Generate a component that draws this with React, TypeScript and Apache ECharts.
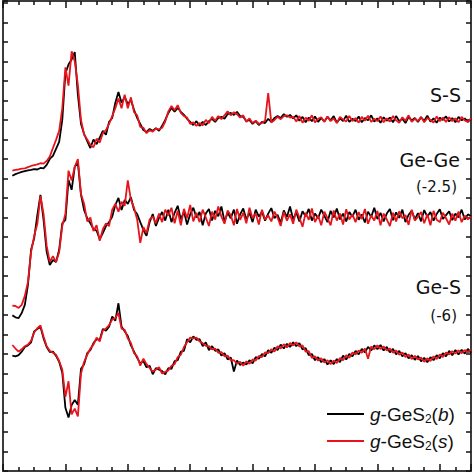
import React, { useEffect, useRef } from "react";
import * as echarts from "echarts";

// Q grid: first sample and step (Å^-1)
const Q_START = 0.3;
const Q_STEP = 0.1;

// S-S (no offset)
const ssBlack = [
  -0.43, -0.39, -0.36, -0.33, -0.31, -0.29, -0.28, -0.26, -0.27, -0.23,
  -0.24, -0.15, 0.0, 0.08, 0.26, 0.44, 1.0, 2.2, 2.42, 2.55,
  2.74, 1.64, 0.9, 0.64, 0.46, 0.28, 0.5, 0.38, 0.55, 0.72,
  0.62, 0.95, 1.05, 1.44, 1.72, 1.44, 1.59, 1.41, 1.51, 1.26,
  1.05, 0.9, 0.74, 0.69, 0.77, 0.72, 0.79, 0.72, 0.85, 1.0,
  1.18, 1.31, 1.21, 1.31, 1.21, 1.13, 1.03, 0.95, 0.87, 0.97,
  0.85, 0.95, 0.87, 0.97, 1.03, 0.95, 1.05, 1.08, 1.03, 1.15,
  1.18, 1.13, 1.21, 1.1, 1.08, 0.97, 1.0, 0.9, 0.97, 0.87,
  0.95, 0.92, 1.03, 0.95, 1.05, 1.1, 1.05, 1.15, 1.08, 1.13,
  1.04, 1.12, 0.98, 1.08, 0.94, 1.06, 0.97, 1.09, 0.95, 1.05,
  0.96, 1.08, 0.99, 1.1, 0.93, 1.04, 0.97, 1.11, 0.95, 1.03,
  0.97, 1.09, 0.94, 1.05, 0.99, 1.12, 0.96, 1.04, 0.93, 1.07,
  0.98, 1.06, 0.94, 1.1, 0.97, 1.03, 0.92, 1.08, 0.99, 1.05,
  0.95, 1.07, 0.98, 1.11, 0.96, 1.04, 0.93, 1.06, 1.0, 1.09,
  0.96, 1.05, 0.94, 1.08, 0.99, 1.04, 0.95, 1.03,
];
const ssRed = [
  -0.3, -0.28, -0.27, -0.25, -0.24, -0.21, -0.18, -0.16, -0.14, -0.11,
  -0.12, -0.05, 0.06, 0.28, 0.49, 0.72, 1.3, 2.35, 1.88, 2.76,
  2.5, 1.9, 1.0, 0.62, 0.5, 0.36, 0.3, 0.52, 0.42, 0.66,
  0.74, 0.9, 1.1, 1.3, 1.55, 1.3, 1.65, 1.3, 1.58, 1.2,
  1.12, 0.82, 0.8, 0.66, 0.74, 0.7, 0.78, 0.76, 0.8, 0.96,
  1.22, 1.36, 1.25, 1.38, 1.18, 1.1, 1.06, 0.9, 0.94, 0.85,
  0.92, 0.86, 1.0, 0.92, 1.08, 0.98, 1.1, 1.02, 1.12, 1.22,
  1.12, 1.2, 1.15, 1.06, 1.12, 0.95, 1.04, 0.92, 0.98, 0.9,
  0.92, 0.98, 1.69, 0.93, 1.0, 1.08, 1.02, 1.1, 1.12, 1.06,
  1.08, 0.96, 1.1, 0.93, 1.06, 0.98, 1.12, 0.94, 1.03, 1.07,
  0.95, 1.09, 0.97, 1.04, 0.92, 1.08, 1.01, 0.96, 1.1, 0.97,
  1.05, 0.93, 1.08, 0.98, 1.11, 0.95, 1.03, 0.97, 1.09, 0.94,
  1.04, 0.96, 1.1, 0.99, 0.93, 1.07, 0.98, 1.12, 0.95, 1.03,
  0.97, 1.08, 0.94, 1.05, 1.0, 0.93, 1.09, 0.97, 1.06, 0.95,
  1.07, 0.97, 1.04, 0.94, 1.08, 0.99, 0.95, 1.04,
];

// Ge-Ge (shifted by -2.5)
const ggBlack = [
  -4.01, -4.06, -4.08, -3.95, -3.74, -3.23, -2.33, -2.03, -1.44, -0.92,
  -1.56, -2.38, -2.72, -2.59, -2.64, -2.33, -1.65, -1.56, -0.54, -0.79,
  -0.2, -0.1, -0.92, -1.31, -1.52, -1.65, -1.8, -1.84, -2.06, -1.9,
  -1.72, -1.62, -1.48, -1.18, -1.0, -1.31, -1.05, -1.15, -0.98, -1.31,
  -1.41, -1.62, -1.82, -1.97, -1.62, -1.41, -1.72, -1.51, -1.36, -1.58,
  -1.3, -1.62, -1.38, -1.2, -1.55, -1.35, -1.68, -1.42, -1.25, -1.5,
  -1.36, -1.7, -1.4, -1.28, -1.58, -1.33, -1.47, -1.22, -1.6, -1.38,
  -1.52, -1.3, -1.66, -1.42, -1.27, -1.55, -1.38, -1.62, -1.3, -1.48,
  -1.35, -1.58, -1.4, -1.26, -1.52, -1.43, -1.64, -1.32, -1.49, -1.22,
  -1.55, -1.37, -1.6, -1.34, -1.47, -1.28, -1.58, -1.4, -1.52, -1.3,
  -1.46, -1.62, -1.33, -1.5, -1.27, -1.55, -1.4, -1.6, -1.36, -1.48,
  -1.3, -1.56, -1.42, -1.63, -1.35, -1.49, -1.25, -1.54, -1.38, -1.6,
  -1.4, -1.28, -1.57, -1.37, -1.51, -1.3, -1.62, -1.43, -1.33, -1.55,
  -1.39, -1.6, -1.31, -1.48, -1.36, -1.58, -1.41, -1.29, -1.54, -1.44,
  -1.34, -1.57, -1.4, -1.5, -1.3, -1.55, -1.42, -1.47,
];
const ggRed = [
  -3.76, -3.77, -3.82, -3.74, -3.51, -3.15, -2.39, -1.97, -1.67, -0.95,
  -1.41, -2.23, -2.64, -2.49, -2.64, -2.39, -1.72, -1.41, -0.3, -0.55,
  -0.2, 0.0, -0.9, -1.15, -1.6, -1.5, -1.85, -1.7, -2.1, -1.8,
  -1.65, -1.72, -1.3, -1.15, -1.35, -1.1, -1.2, -0.55, -1.05, -1.25,
  -1.55, -2.15, -1.75, -1.9, -1.55, -1.48, -1.65, -1.4, -1.62, -1.3,
  -1.45, -1.25, -1.65, -1.33, -1.7, -1.28, -1.52, -1.18, -1.6, -1.38,
  -1.62, -1.3, -1.5, -1.72, -1.35, -1.55, -1.22, -1.48, -1.66, -1.32,
  -1.44, -1.7, -1.28, -1.56, -1.38, -1.65, -1.25, -1.52, -1.4, -1.68,
  -1.3, -1.55, -1.45, -1.6, -1.35, -1.5, -1.72, -1.36, -1.58, -1.42,
  -1.66, -1.3, -1.5, -1.74, -1.38, -1.56, -1.27, -1.62, -1.45, -1.7,
  -1.35, -1.52, -1.7, -1.32, -1.58, -1.4, -1.68, -1.29, -1.55, -1.42,
  -1.62, -1.36, -1.54, -1.28, -1.66, -1.45, -1.58, -1.33, -1.7, -1.4,
  -1.55, -1.72, -1.38, -1.6, -1.34, -1.52, -1.44, -1.69, -1.3, -1.58,
  -1.48, -1.36, -1.65, -1.42, -1.7, -1.33, -1.56, -1.62, -1.38, -1.52,
  -1.68, -1.4, -1.58, -1.35, -1.62, -1.45, -1.55, -1.48,
];

// Ge-S (shifted by -6)
const gsBlack = [
  -5.04, -5.06, -5.03, -4.94, -4.82, -4.78, -4.7, -4.42, -4.36, -4.3,
  -4.6, -4.82, -4.95, -4.94, -5.05, -5.2, -5.48, -6.38, -6.63, -6.31,
  -6.18, -6.3, -5.38, -5.26, -4.98, -4.9, -4.72, -4.62, -4.64, -4.36,
  -4.4, -4.3, -4.04, -4.15, -3.7, -4.3, -4.42, -4.54, -4.78, -4.94,
  -5.1, -5.24, -5.18, -5.34, -5.3, -5.52, -5.36, -5.4, -5.44, -5.52,
  -5.36, -5.38, -5.18, -5.16, -4.94, -4.92, -4.62, -4.7, -4.55, -4.64,
  -4.62, -4.8, -4.7, -4.9, -4.8, -4.92, -4.88, -5.04, -4.98, -5.14,
  -5.09, -5.45, -5.17, -5.28, -5.22, -5.27, -5.16, -5.24, -5.08, -5.12,
  -5.0, -5.06, -4.9, -4.97, -4.84, -4.9, -4.76, -4.86, -4.74, -4.82,
  -4.7, -4.8, -4.72, -4.88, -4.85, -5.03, -5.0, -5.16, -5.08, -5.21,
  -5.13, -5.27, -5.16, -5.26, -5.13, -5.21, -5.04, -5.14, -5.0, -5.06,
  -4.92, -5.01, -4.87, -4.96, -4.82, -4.91, -4.78, -4.88, -4.77, -4.91,
  -4.82, -4.96, -4.87, -5.01, -4.92, -5.06, -4.98, -5.11, -5.03, -5.15,
  -5.05, -5.19, -5.1, -5.21, -5.08, -5.16, -5.03, -5.11, -4.98, -5.06,
  -4.92, -5.03, -4.9, -5.01, -4.89, -4.99, -4.87, -4.97,
];
const gsRed = [
  -4.77, -4.86, -4.94, -4.88, -4.8, -4.76, -4.66, -4.45, -4.34, -4.27,
  -4.55, -4.8, -4.92, -4.97, -5.02, -5.18, -5.4, -6.1, -5.7, -6.55,
  -6.4, -6.6, -5.5, -5.2, -5.02, -4.86, -4.76, -4.58, -4.68, -4.4,
  -4.35, -4.26, -4.12, -4.08, -3.95, -4.35, -4.38, -4.6, -4.72, -4.98,
  -5.06, -5.3, -5.12, -5.26, -5.36, -5.45, -5.4, -5.34, -5.5, -5.46,
  -5.42, -5.3, -5.26, -5.08, -5.02, -4.82, -4.7, -4.58, -4.6, -4.58,
  -4.68, -4.72, -4.79, -4.8, -4.88, -4.86, -4.97, -4.95, -5.06, -5.04,
  -5.16, -5.16, -5.25, -5.2, -5.3, -5.19, -5.25, -5.14, -5.17, -5.05,
  -5.08, -4.96, -4.98, -4.88, -4.94, -4.8, -4.86, -4.75, -4.83, -4.72,
  -4.78, -4.7, -4.81, -4.78, -4.94, -4.93, -5.1, -5.06, -5.17, -5.11,
  -5.22, -5.16, -5.26, -5.17, -5.23, -5.1, -5.16, -5.03, -5.1, -4.96,
  -5.01, -4.91, -4.97, -4.86, -5.12, -4.81, -4.88, -4.78, -4.87, -4.81,
  -4.91, -4.86, -4.97, -4.91, -5.02, -4.96, -5.08, -5.01, -5.13, -5.05,
  -5.14, -5.09, -5.2, -5.11, -5.18, -5.06, -5.13, -5.01, -5.08, -4.96,
  -5.01, -4.93, -4.99, -4.91, -4.98, -4.9, -4.96, -4.88,
];

const pairNames = ["S-S", "Ge-Ge", "Ge-S"];
const offsetNotes = ["(-2.5)", "(-6)"];

const toPairs = (vals: number[]) =>
  vals.map((v, i) => [Math.round((Q_START + Q_STEP * i) * 100) / 100, v]);

const BLACK = "#000000";
const RED = "#e8141c";

export default function App() {
  const ref = useRef<HTMLDivElement>(null);
  useEffect(() => {
    document.body.style.margin = "0";
    if (!ref.current) return;
    const chart = echarts.init(ref.current, undefined, { renderer: "svg" });

    const axisLine = { show: true, onZero: false, lineStyle: { color: "#3c3c3c", width: 2 } };
    const tickStyle = { color: "#111", width: 1.5 };
    const xCommon = {
      type: "value" as const,
      min: 0,
      max: 15,
      interval: 2,
      axisLine,
      axisTick: { show: true, inside: true, length: 7, lineStyle: tickStyle },
      minorTick: { show: true, splitNumber: 4, length: 4, lineStyle: tickStyle },
      axisLabel: { show: false },
      splitLine: { show: false },
      minorSplitLine: { show: false },
    };
    const yCommon = {
      type: "value" as const,
      min: -8,
      max: 4.05,
      interval: 0.5,
      axisLine,
      axisTick: { show: true, inside: true, length: 5, lineStyle: tickStyle },
      axisLabel: { show: false },
      splitLine: { show: false },
    };

    const mk = (name: string, vals: number[], color: string, z: number) => ({
      name,
      type: "line" as const,
      xAxisIndex: 0,
      yAxisIndex: 0,
      data: toPairs(vals),
      showSymbol: false,
      symbol: "none",
      silent: true,
      z,
      lineStyle: { color, width: 1.8 },
      itemStyle: { color },
    });

    const labelFont = "DejaVu Sans";
    const legendFont = "Liberation Sans";
    const legendRich = {
      i: { fontStyle: "italic", fontSize: 19, fontFamily: legendFont, fill: "#111" },
      s: { fontSize: 12, fontFamily: legendFont, fill: "#111", padding: [9, 0, 0, 0] },
    };

    chart.setOption({
      animation: false,
      grid: { left: 3, right: 3, top: 1, bottom: 3, containLabel: false },
      xAxis: [
        { ...xCommon, position: "bottom" },
        { ...xCommon, position: "top" },
      ],
      yAxis: [
        { ...yCommon, position: "left" },
        { ...yCommon, position: "right" },
      ],
      series: [
        mk("S-S b", ssBlack, BLACK, 2),
        mk("Ge-Ge b", ggBlack, BLACK, 2),
        mk("Ge-S b", gsBlack, BLACK, 2),
        mk("S-S s", ssRed, RED, 3),
        mk("Ge-Ge s", ggRed, RED, 3),
        mk("Ge-S s", gsRed, RED, 3),
      ],
      graphic: [
        { type: "text", x: 461, y: 95, style: { text: pairNames[0], fontSize: 19, fontFamily: labelFont, fill: "#111", align: "right", verticalAlign: "middle" } },
        { type: "text", x: 460, y: 160, style: { text: pairNames[1], fontSize: 19, fontFamily: labelFont, fill: "#111", align: "right", verticalAlign: "middle" } },
        { type: "text", x: 457, y: 187, style: { text: offsetNotes[0], fontSize: 15, fontFamily: labelFont, fill: "#111", align: "right", verticalAlign: "middle" } },
        { type: "text", x: 461, y: 287, style: { text: pairNames[2], fontSize: 19, fontFamily: labelFont, fill: "#111", align: "right", verticalAlign: "middle" } },
        { type: "text", x: 457, y: 316, style: { text: offsetNotes[1], fontSize: 15, fontFamily: labelFont, fill: "#111", align: "right", verticalAlign: "middle" } },
        { type: "line", shape: { x1: 327, y1: 414, x2: 364, y2: 414 }, style: { stroke: BLACK, lineWidth: 2 } },
        { type: "line", shape: { x1: 327, y1: 441, x2: 364, y2: 441 }, style: { stroke: RED, lineWidth: 2 } },
        { type: "text", x: 370, y: 414, style: { text: "{i|g}-GeS{s|2}({i|b})", fontSize: 19, fontFamily: legendFont, fill: "#111", align: "left", verticalAlign: "middle", rich: legendRich } },
        { type: "text", x: 370, y: 441, style: { text: "{i|g}-GeS{s|2}({i|s})", fontSize: 19, fontFamily: legendFont, fill: "#111", align: "left", verticalAlign: "middle", rich: legendRich } },
      ],
    });
    return () => chart.dispose();
  }, []);
  return (
    <div
      ref={ref}
      style={{ position: "absolute", left: 0, top: 0, width: 474, height: 474, background: "#fff" }}
    />
  );
}
